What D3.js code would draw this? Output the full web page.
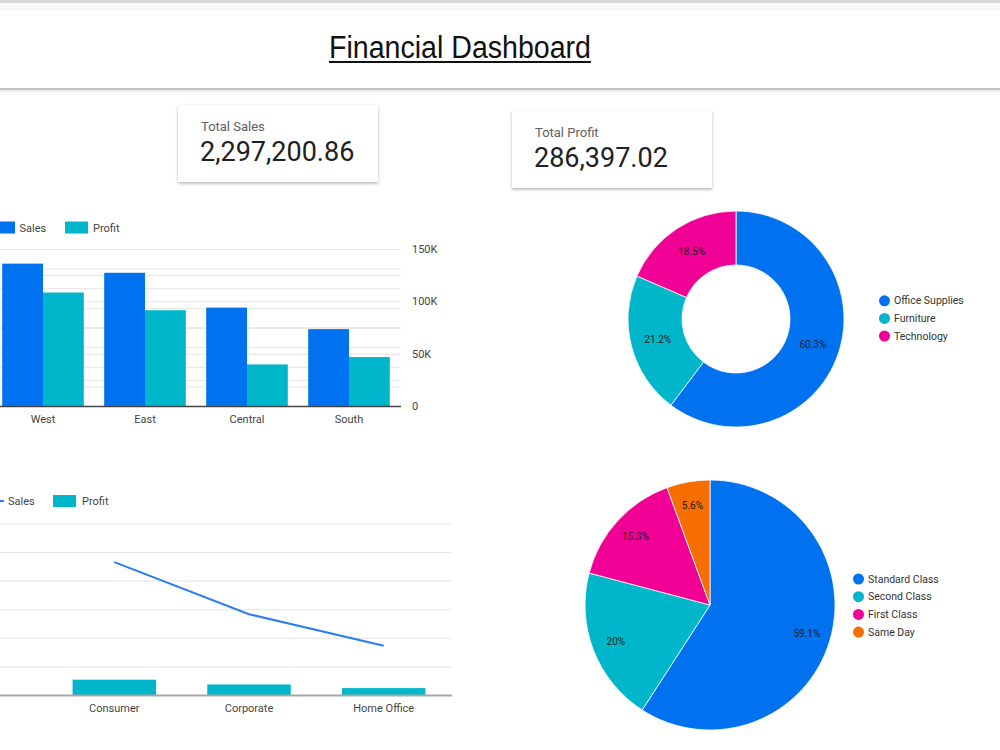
<!DOCTYPE html>
<html>
<head>
<meta charset="utf-8">
<script src="https://cdnjs.cloudflare.com/ajax/libs/d3/7.8.5/d3.min.js"></script>
<style>
body { margin: 0; background: #fff; }
svg { display: block; font-family: Roboto, "Noto Sans", sans-serif; }
</style>
</head>
<body>
<script>
// data (Superstore)
const regions = ["West", "East", "Central", "South"];
const regionSales = [725457.82, 678781.24, 501239.89, 391721.91];
const regionProfit = [108418.45, 91522.78, 39706.36, 46749.43];
const segments = ["Consumer", "Corporate", "Home Office"];
const segmentSales = [1161401.34, 706146.37, 429653.15];
const segmentProfit = [134119.21, 91979.13, 60298.68];
const categories = ["Office Supplies", "Furniture", "Technology"];
const categoryCounts = [6026, 2121, 1847];
const shipModes = ["Standard Class", "Second Class", "First Class", "Same Day"];
const shipSales = [1358215.74, 459193.57, 351428.42, 128363.12];
const profitTicks = [0, 50000, 100000, 150000];

const colors = ["#0072f0", "#00b6cb", "#f10096", "#f66d00"];

const svg = d3.select("body")
	.append("svg")
	.attr("width", 1000)
	.attr("height", 750);

const defs = svg.append("defs");
defs.append("filter")
	.attr("id", "shadow")
	.attr("x", "-10%").attr("y", "-10%")
	.attr("width", "120%").attr("height", "130%")
	.append("feDropShadow")
	.attr("dx", 0).attr("dy", 1.5)
	.attr("stdDeviation", 1.5)
	.attr("flood-color", "#000")
	.attr("flood-opacity", 0.3);

// header
svg.append("rect").attr("x", 0).attr("y", 0).attr("width", 1000).attr("height", 3).attr("fill", "#d9d9d9");
svg.append("rect").attr("x", 0).attr("y", 3).attr("width", 1000).attr("height", 8).attr("fill", "#f9f9f9");
svg.append("rect").attr("x", 0).attr("y", 88).attr("width", 1000).attr("height", 2).attr("fill", "#c2c2c2");
svg.append("rect").attr("x", 0).attr("y", 90).attr("width", 1000).attr("height", 2).attr("fill", "#eeeeee");

svg.append("text")
	.attr("x", 460)
	.attr("y", 58)
	.attr("text-anchor", "middle")
	.attr("textLength", 262)
	.attr("lengthAdjust", "spacingAndGlyphs")
	.style("font-family", "'Liberation Sans Narrow', 'Liberation Sans', Arial, sans-serif")
	.style("font-size", "31px")
	.attr("fill", "#111")
	.text("Financial Dashboard");
svg.append("line")
	.attr("x1", 329).attr("x2", 591)
	.attr("y1", 62).attr("y2", 62)
	.attr("stroke", "#111")
	.attr("stroke-width", 2);

// scorecards
const cardLabels = ["Total Sales", "Total Profit"];
const cardValues = [d3.sum(regionSales), d3.sum(regionProfit)];
const cardX = [178, 512];
const cardY = [105, 111];

const cards = svg.selectAll(".card")
	.data(cardLabels)
	.enter()
	.append("g")
	.attr("class", "card")
	.attr("transform", (d, i) => "translate(" + cardX[i] + "," + cardY[i] + ")");

cards.append("rect")
	.attr("width", 200)
	.attr("height", 77)
	.attr("fill", "#fff")
	.attr("filter", "url(#shadow)");
cards.append("text")
	.attr("x", 23)
	.attr("y", 26)
	.attr("fill", "#616161")
	.style("font-size", "13px")
	.text((d) => d);
cards.append("text")
	.attr("x", 22)
	.attr("y", 56)
	.attr("fill", "#212121")
	.style("font-size", "27px")
	.text((d, i) => d3.format(",.2f")(cardValues[i]));

// chart 1 : sales & profit by region
const x1 = d3.scaleBand().domain(regions).range([-8, 400]).paddingInner(0.2).paddingOuter(0.1);
const xs = d3.scaleBand().domain(["Sales", "Profit"]).range([0, x1.bandwidth()]);
const y1 = d3.scaleLinear().domain([0, 800000]).range([406, 249]);
const y1r = d3.scaleLinear().domain([0, 150000]).range([406, 249]);

const grid1 = svg.append("g").attr("transform", "translate(-8,0)");
grid1.append("g")
	.call(d3.axisLeft(y1).tickValues(d3.range(100000, 800001, 100000)).tickSize(-409).tickFormat(""));
grid1.append("g")
	.call(d3.axisLeft(y1r).tickValues(d3.range(25000, 150001, 25000)).tickSize(-409).tickFormat(""));
grid1.selectAll(".domain").remove();
grid1.selectAll(".tick line").attr("stroke", "#e4e4e4");

svg.selectAll(".salesBar")
	.data(regions)
	.enter()
	.append("rect")
	.attr("class", "salesBar")
	.attr("x", (d) => x1(d) + xs("Sales"))
	.attr("y", (d, i) => y1(regionSales[i]))
	.attr("width", xs.bandwidth())
	.attr("height", (d, i) => y1(0) - y1(regionSales[i]))
	.attr("fill", colors[0]);

svg.selectAll(".profitBar")
	.data(regions)
	.enter()
	.append("rect")
	.attr("class", "profitBar")
	.attr("x", (d) => x1(d) + xs("Profit"))
	.attr("y", (d, i) => y1r(regionProfit[i]))
	.attr("width", xs.bandwidth())
	.attr("height", (d, i) => y1r(0) - y1r(regionProfit[i]))
	.attr("fill", colors[1]);

svg.append("line")
	.attr("x1", -8).attr("x2", 401)
	.attr("y1", 406.5).attr("y2", 406.5)
	.attr("stroke", "#444")
	.attr("stroke-width", 1.5);

const xAxis1 = svg.append("g")
	.attr("transform", "translate(0,406)")
	.call(d3.axisBottom(x1).tickSize(0).tickPadding(9));
xAxis1.select(".domain").remove();

const yAxis1 = svg.append("g")
	.attr("transform", "translate(412,0)")
	.call(d3.axisRight(y1r).tickValues(profitTicks).tickSize(0).tickPadding(0)
		.tickFormat((d) => d == 0 ? "0" : d / 1000 + "K"));
yAxis1.select(".domain").remove();

svg.selectAll(".tick text")
	.style("font-family", "Roboto, sans-serif")
	.style("font-size", "11px")
	.attr("fill", "#444");

// legend 1
svg.append("rect").attr("x", -8).attr("y", 221.5).attr("width", 23).attr("height", 12).attr("fill", colors[0]);
svg.append("text").attr("x", 19.5).attr("y", 231.5).style("font-size", "11px").attr("fill", "#444").text("Sales");
svg.append("rect").attr("x", 65).attr("y", 221.5).attr("width", 23).attr("height", 12).attr("fill", colors[1]);
svg.append("text").attr("x", 93).attr("y", 231.5).style("font-size", "11px").attr("fill", "#444").text("Profit");

// chart 2 : sales & profit by segment
const x2 = d3.scaleBand().domain(segments).range([47, 451]).paddingInner(0.38).paddingOuter(0.19);
const y2 = d3.scaleLinear().domain([0, 1500000]).range([695, 523.4]);

const grid2 = svg.append("g").attr("transform", "translate(-10,0)")
	.call(d3.axisLeft(y2).tickValues(d3.range(250000, 1500001, 250000)).tickSize(-461).tickFormat(""));
grid2.select(".domain").remove();
grid2.selectAll(".tick line").attr("stroke", "#e4e4e4");

svg.selectAll(".segBar")
	.data(segments)
	.enter()
	.append("rect")
	.attr("class", "segBar")
	.attr("x", (d) => x2(d))
	.attr("y", (d, i) => y2(segmentProfit[i]))
	.attr("width", x2.bandwidth())
	.attr("height", (d, i) => y2(0) - y2(segmentProfit[i]))
	.attr("fill", colors[1]);

svg.append("line")
	.attr("x1", -10).attr("x2", 452)
	.attr("y1", 695.5).attr("y2", 695.5)
	.attr("stroke", "#a6a6a6")
	.attr("stroke-width", 2);

const line = d3.line()
	.x((d) => x2(d) + x2.bandwidth() / 2)
	.y((d, i) => y2(segmentSales[i]));

svg.append("path")
	.datum(segments)
	.attr("d", line)
	.attr("fill", "none")
	.attr("stroke", "#2a7ef2")
	.attr("stroke-width", 2);

const xAxis2 = svg.append("g")
	.attr("transform", "translate(0,695)")
	.call(d3.axisBottom(x2).tickSize(0).tickPadding(9));
xAxis2.select(".domain").remove();
xAxis2.selectAll(".tick text")
	.style("font-family", "Roboto, sans-serif")
	.style("font-size", "11px")
	.attr("fill", "#444");

// legend 2
svg.append("line").attr("x1", -10).attr("x2", 4).attr("y1", 501).attr("y2", 501).attr("stroke", "#2a7ef2").attr("stroke-width", 2);
svg.append("text").attr("x", 8).attr("y", 505).style("font-size", "11px").attr("fill", "#444").text("Sales");
svg.append("rect").attr("x", 53).attr("y", 495).attr("width", 23).attr("height", 12).attr("fill", colors[1]);
svg.append("text").attr("x", 82).attr("y", 505).style("font-size", "11px").attr("fill", "#444").text("Profit");

// pie helpers
const pie = d3.pie().sort(null).value((d) => d);
const pct = d3.format(".1~%");

function drawPie(cx, cy, inner, outer, labelR, values, names, legX, legY, legStep) {
	const total = d3.sum(values);
	const arcs = pie(values);
	const g = svg.append("g").attr("transform", "translate(" + cx + "," + cy + ")");
	const arc = d3.arc().innerRadius(inner).outerRadius(outer);
	const labelArc = d3.arc().innerRadius(labelR).outerRadius(labelR);

	g.selectAll("path")
		.data(arcs)
		.enter()
		.append("path")
		.attr("d", arc)
		.attr("fill", (d, i) => colors[i])
		.attr("stroke", "#fff")
		.attr("stroke-width", 0.8);

	g.selectAll("text")
		.data(arcs)
		.enter()
		.append("text")
		.attr("transform", (d) => "translate(" + labelArc.centroid(d) + ")")
		.attr("text-anchor", "middle")
		.attr("dy", "0.35em")
		.style("font-size", "10px")
		.attr("fill", "#1a1a1a")
		.text((d) => pct(d.value / total));

	const leg = svg.selectAll(null)
		.data(names)
		.enter()
		.append("g")
		.attr("transform", (d, i) => "translate(" + legX + "," + (legY + i * legStep) + ")");
	leg.append("circle")
		.attr("r", 5.5)
		.attr("fill", (d, i) => colors[i]);
	leg.append("text")
		.attr("x", 9.5)
		.attr("dy", "0.35em")
		.style("font-size", "10.5px")
		.attr("fill", "#333")
		.text((d) => d);
}

drawPie(736, 319, 54, 108, 81, categoryCounts, categories, 884.5, 300.8, 17.6);
drawPie(710, 605, 0, 125, 101, shipSales, shipModes, 858.5, 579, 17.7);
</script>
</body>
</html>
